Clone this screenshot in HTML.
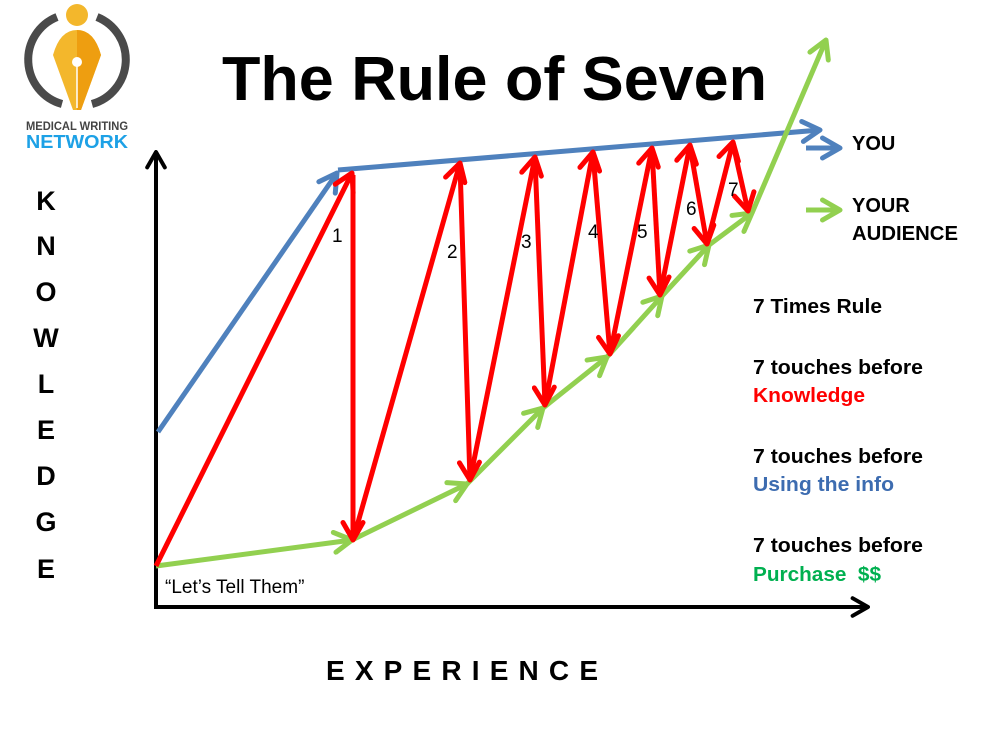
<!DOCTYPE html>
<html><head><meta charset="utf-8"><style>
body{margin:0;background:#fff}
svg{display:block}
text{font-family:"Liberation Sans",sans-serif}
</style></head><body>
<svg width="982" height="737" viewBox="0 0 982 737" xmlns="http://www.w3.org/2000/svg">
<defs>
<marker id="ar" viewBox="0 0 20 20" refX="18" refY="10" markerWidth="25" markerHeight="25" markerUnits="userSpaceOnUse" orient="auto"><path d="M4 2 L18 10 L4 18" fill="none" stroke="#ff0000" stroke-width="4" stroke-linecap="round" stroke-linejoin="round"/></marker>
<marker id="ag" viewBox="0 0 20 20" refX="18" refY="10" markerWidth="25" markerHeight="25" markerUnits="userSpaceOnUse" orient="auto"><path d="M4 2 L18 10 L4 18" fill="none" stroke="#92d050" stroke-width="4" stroke-linecap="round" stroke-linejoin="round"/></marker>
<marker id="ab" viewBox="0 0 20 20" refX="18" refY="10" markerWidth="25" markerHeight="25" markerUnits="userSpaceOnUse" orient="auto"><path d="M4 2 L18 10 L4 18" fill="none" stroke="#4f81bd" stroke-width="4" stroke-linecap="round" stroke-linejoin="round"/></marker>
<marker id="ak" viewBox="0 0 20 20" refX="18" refY="10" markerWidth="22" markerHeight="22" markerUnits="userSpaceOnUse" orient="auto"><path d="M4 2 L18 10 L4 18" fill="none" stroke="#000" stroke-width="3.6" stroke-linecap="round" stroke-linejoin="round"/></marker>
</defs>
<!-- logo -->
<g>
<path d="M57 17 A46 46 0 0 0 62 104" fill="none" stroke="#4a4a4a" stroke-width="8"/>
<path d="M97 17 A46 46 0 0 1 92 104" fill="none" stroke="#4a4a4a" stroke-width="8"/>
<circle cx="77" cy="15" r="11" fill="#f3b72c"/>
<path d="M77 30 Q60 30 53 55 L73 110 L81 110 L101 55 Q94 30 77 30Z" fill="#f3b72c"/>
<path d="M77 30 Q94 30 101 55 L81 110 L77 110Z" fill="#ee9e10"/>
<circle cx="77" cy="62" r="5" fill="#fff"/>
<line x1="77" y1="62" x2="77" y2="108" stroke="#fff" stroke-width="1.5"/>
<text x="77" y="130" font-size="11.5" font-weight="bold" fill="#444" text-anchor="middle" textLength="102" lengthAdjust="spacingAndGlyphs">MEDICAL WRITING</text>
<text x="77" y="148" font-size="18" font-weight="bold" fill="#1da1e6" text-anchor="middle" textLength="102" lengthAdjust="spacingAndGlyphs">NETWORK</text>
</g>
<text x="222" y="100" font-size="62" font-weight="bold" fill="#000" textLength="545" lengthAdjust="spacingAndGlyphs">The Rule of Seven</text>
<!-- axes -->
<line x1="156" y1="608" x2="156" y2="152" stroke="#000" stroke-width="4" marker-end="url(#ak)"/>
<line x1="154" y1="607" x2="868" y2="607" stroke="#000" stroke-width="4" marker-end="url(#ak)"/>
<!-- blue -->
<line x1="158" y1="432" x2="337" y2="173" stroke="#4f81bd" stroke-width="5" marker-end="url(#ab)"/>
<line x1="338" y1="170" x2="820" y2="130" stroke="#4f81bd" stroke-width="5" marker-end="url(#ab)"/>
<line x1="806" y1="148" x2="840" y2="148" stroke="#4f81bd" stroke-width="5" marker-end="url(#ab)"/>
<!-- green -->
<g stroke="#92d050" stroke-width="5" fill="none">
<line x1="156" y1="566" x2="352" y2="540" marker-end="url(#ag)"/>
<line x1="352" y1="540" x2="467" y2="484" marker-end="url(#ag)"/>
<line x1="467" y1="484" x2="543" y2="408" marker-end="url(#ag)"/>
<line x1="543" y1="408" x2="607" y2="357" marker-end="url(#ag)"/>
<line x1="607" y1="357" x2="662" y2="296" marker-end="url(#ag)"/>
<line x1="662" y1="296" x2="709" y2="245" marker-end="url(#ag)"/>
<line x1="709" y1="245" x2="752" y2="213" marker-end="url(#ag)"/>
<line x1="752" y1="213" x2="826" y2="40" marker-end="url(#ag)"/>
<line x1="806" y1="210" x2="840" y2="210" marker-end="url(#ag)"/>
</g>
<!-- red -->
<g stroke="#ff0000" stroke-width="5" fill="none">
<line x1="156" y1="566" x2="352" y2="173" marker-end="url(#ar)"/>
<line x1="353" y1="175" x2="353" y2="540" marker-end="url(#ar)"/>
<line x1="353" y1="540" x2="460" y2="163" marker-end="url(#ar)"/>
<line x1="460" y1="165" x2="470" y2="480" marker-end="url(#ar)"/>
<line x1="470" y1="480" x2="535" y2="157" marker-end="url(#ar)"/>
<line x1="535" y1="159" x2="545" y2="405" marker-end="url(#ar)"/>
<line x1="545" y1="405" x2="593" y2="152" marker-end="url(#ar)"/>
<line x1="593" y1="154" x2="610" y2="354" marker-end="url(#ar)"/>
<line x1="610" y1="354" x2="652" y2="148" marker-end="url(#ar)"/>
<line x1="652" y1="150" x2="660" y2="295" marker-end="url(#ar)"/>
<line x1="660" y1="295" x2="690" y2="145" marker-end="url(#ar)"/>
<line x1="690" y1="147" x2="707" y2="244" marker-end="url(#ar)"/>
<line x1="707" y1="244" x2="733" y2="142" marker-end="url(#ar)"/>
<line x1="733" y1="144" x2="748" y2="211" marker-end="url(#ar)"/>
</g>
<g font-size="19" fill="#000">
<text x="332" y="242">1</text><text x="447" y="258">2</text><text x="521" y="248">3</text>
<text x="588" y="238">4</text><text x="637" y="238">5</text><text x="686" y="215">6</text><text x="728" y="196">7</text>
</g>
<!-- KNOWLEDGE -->
<g font-size="27" font-weight="bold" text-anchor="middle" fill="#000">
<text x="46" y="210">K</text><text x="46" y="255">N</text><text x="46" y="301">O</text><text x="46" y="347">W</text><text x="46" y="393">L</text><text x="46" y="439">E</text><text x="46" y="485">D</text><text x="46" y="531">G</text><text x="46" y="578">E</text>
</g>
<text x="326" y="680" font-size="28" font-weight="bold" textLength="272" lengthAdjust="spacing">EXPERIENCE</text>
<text x="165" y="593" font-size="19">“Let’s Tell Them”</text>
<g font-size="20" font-weight="bold" fill="#000">
<text x="852" y="150">YOU</text>
<text x="852" y="212">YOUR</text>
<text x="852" y="240" textLength="106" lengthAdjust="spacingAndGlyphs">AUDIENCE</text>
<text x="753" y="313" textLength="129" lengthAdjust="spacingAndGlyphs">7 Times Rule</text>
<text x="753" y="374" textLength="170" lengthAdjust="spacingAndGlyphs">7 touches before</text>
<text x="753" y="402" fill="#ff0000" textLength="112" lengthAdjust="spacingAndGlyphs">Knowledge</text>
<text x="753" y="463" textLength="170" lengthAdjust="spacingAndGlyphs">7 touches before</text>
<text x="753" y="491" fill="#3d6cb0" textLength="141" lengthAdjust="spacingAndGlyphs">Using the info</text>
<text x="753" y="552" textLength="170" lengthAdjust="spacingAndGlyphs">7 touches before</text>
<text x="753" y="581" fill="#00b050" xml:space="preserve" textLength="128" lengthAdjust="spacingAndGlyphs">Purchase  $$</text>
</g>
</svg>
</body></html>
